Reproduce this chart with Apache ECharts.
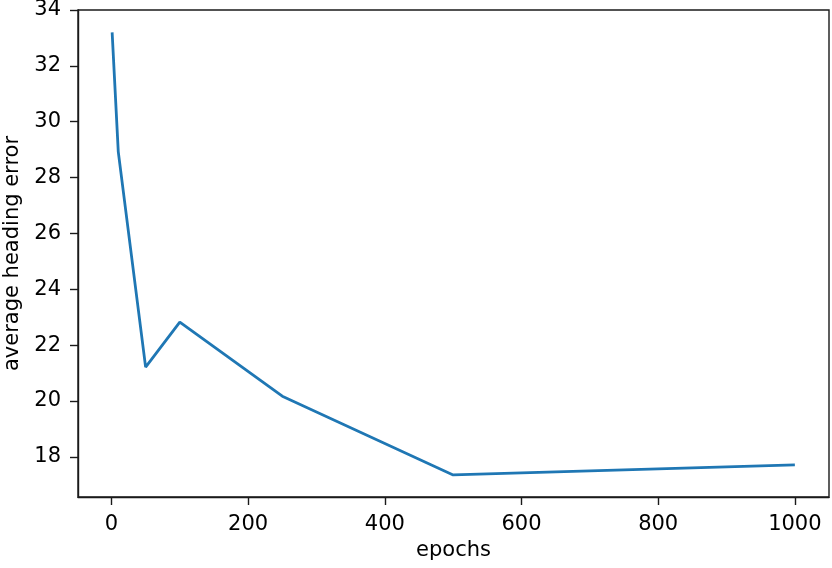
<!DOCTYPE html>
<html>
<head>
<meta charset="utf-8">
<script src="https://cdn.jsdelivr.net/npm/echarts@6/dist/echarts.min.js"></script>
<style>html,body{margin:0;padding:0;background:#fff;}#c{width:832px;height:568px;}</style>
</head>
<body>
<div id="c"></div>
<script>
const epochs = [1, 10, 50, 100, 250, 500, 1000];
const headingError = [33.2, 28.92, 21.21, 22.82, 20.17, 17.35, 17.71];
const xTicks = [0, 200, 400, 600, 800, 1000];
const yTicks = [18, 20, 22, 24, 26, 28, 30, 32, 34];

const chart = echarts.init(document.getElementById('c'), null, {renderer: 'canvas'});
const font = 'DejaVu Sans';
const fs = 21;
chart.setOption({
  animation: false,
  backgroundColor: '#fff',
  grid: {left: 78, right: 3, top: 10, bottom: 71, containLabel: false, outerBoundsMode: 'none',
         show: true, borderColor: '#1a1a1a', borderWidth: 1.4, backgroundColor: 'transparent'},
  xAxis: {
    type: 'value', min: -48.95, max: 1049.95,
    name: 'epochs', nameLocation: 'middle', nameGap: 42,
    nameTextStyle: {fontFamily: font, fontSize: fs, color: '#000'},
    axisLine: {show: true, onZero: false, lineStyle: {color: '#1a1a1a', width: 1.4}},
    axisTick: {show: true, length: 8, customValues: xTicks, lineStyle: {color: '#1a1a1a', width: 1.4}},
    axisLabel: {customValues: xTicks, margin: 17, fontFamily: font, fontSize: fs, color: '#000',
                formatter: v => String(v)},
    splitLine: {show: false}
  },
  yAxis: {
    type: 'value', min: 16.56, max: 34,
    name: 'average heading error', nameLocation: 'middle', nameGap: 53,
    nameTextStyle: {fontFamily: font, fontSize: fs, color: '#000'},
    axisLine: {show: true, onZero: false, lineStyle: {color: '#1a1a1a', width: 1.4}},
    axisTick: {show: true, length: 8, customValues: yTicks, lineStyle: {color: '#1a1a1a', width: 1.4}},
    axisLabel: {customValues: yTicks, margin: 17, fontFamily: font, fontSize: fs, color: '#000',
                formatter: v => String(v)},
    splitLine: {show: false}
  },
  series: [{
    type: 'line',
    data: epochs.map((e, i) => [e, headingError[i]]),
    showSymbol: false, symbol: 'none',
    lineStyle: {color: '#1f77b4', width: 2.8},
    itemStyle: {color: '#1f77b4'}
  }]
});
</script>
</body>
</html>
